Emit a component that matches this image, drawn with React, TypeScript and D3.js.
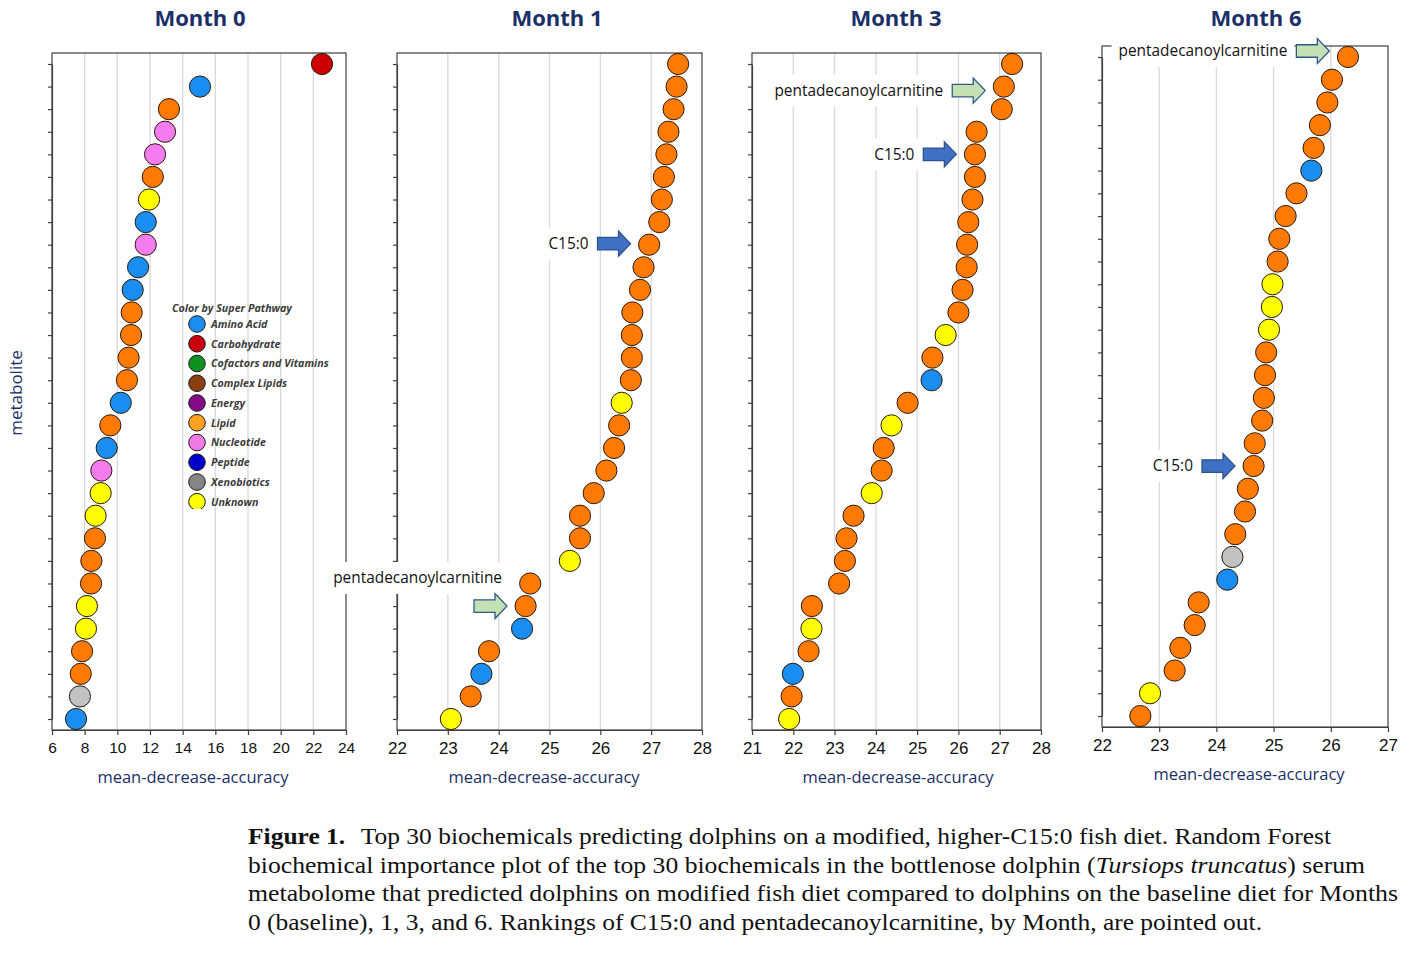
import { useEffect, useRef } from "react";
import * as d3 from "d3";

const WIDTH = 1418;
const HEIGHT = 958;

// Super pathway codes used in the per-month arrays
// AA amino acid, CH carbohydrate, LP lipid, NU nucleotide, XB xenobiotics, UN unknown

// mean-decrease-accuracy, rank 1 first
const month0Values = [22.53, 15.06, 13.16, 12.92, 12.31, 12.17, 11.94, 11.74, 11.74, 11.27, 10.94, 10.88, 10.84, 10.69, 10.59, 10.21, 9.57, 9.35, 9.02, 8.98, 8.67, 8.63, 8.41, 8.39, 8.14, 8.08, 7.84, 7.76, 7.71, 7.47];
const month0Pathways = ["CH", "AA", "LP", "NU", "NU", "LP", "UN", "AA", "NU", "AA", "AA", "LP", "LP", "LP", "LP", "AA", "LP", "AA", "NU", "UN", "UN", "LP", "LP", "LP", "UN", "UN", "LP", "LP", "XB", "AA"];

const month1Values = [27.53, 27.5, 27.44, 27.34, 27.3, 27.25, 27.21, 27.16, 26.96, 26.85, 26.78, 26.63, 26.62, 26.62, 26.6, 26.42, 26.37, 26.27, 26.12, 25.87, 25.6, 25.6, 25.4, 24.62, 24.53, 24.46, 23.81, 23.66, 23.45, 23.06];
const month1Pathways = ["LP", "LP", "LP", "LP", "LP", "LP", "LP", "LP", "LP", "LP", "LP", "LP", "LP", "LP", "LP", "UN", "LP", "LP", "LP", "LP", "LP", "LP", "UN", "LP", "LP", "AA", "LP", "AA", "LP", "UN"];

const month3Values = [27.3, 27.1, 27.05, 26.44, 26.4, 26.4, 26.34, 26.24, 26.21, 26.2, 26.1, 26.0, 25.69, 25.37, 25.35, 24.77, 24.38, 24.19, 24.14, 23.9, 23.46, 23.29, 23.25, 23.11, 22.45, 22.44, 22.37, 21.99, 21.96, 21.9];
const month3Pathways = ["LP", "LP", "LP", "LP", "LP", "LP", "LP", "LP", "LP", "LP", "LP", "LP", "UN", "LP", "AA", "LP", "UN", "LP", "LP", "UN", "LP", "LP", "LP", "LP", "LP", "UN", "LP", "AA", "LP", "UN"];

const month6Values = [26.3, 26.02, 25.94, 25.81, 25.7, 25.66, 25.4, 25.21, 25.1, 25.07, 24.98, 24.97, 24.92, 24.87, 24.85, 24.83, 24.8, 24.67, 24.65, 24.55, 24.5, 24.33, 24.28, 24.19, 23.69, 23.62, 23.37, 23.27, 22.84, 22.67];
const month6Pathways = ["LP", "LP", "LP", "LP", "LP", "AA", "LP", "LP", "LP", "LP", "UN", "UN", "UN", "LP", "LP", "LP", "LP", "LP", "LP", "LP", "LP", "LP", "XB", "AA", "LP", "LP", "LP", "LP", "UN", "LP"];

// ranks of the two highlighted biochemicals (shift = small vertical nudge of the arrow)
const month1Callouts = [
  { label: "C15:0", rank: 9, kind: "c15", above: false, shift: -1 },
  { label: "pentadecanoylcarnitine", rank: 25, kind: "pdc", above: true, shift: 0 },
];
const month3Callouts = [
  { label: "pentadecanoylcarnitine", rank: 2, kind: "pdc", above: false, shift: 4 },
  { label: "C15:0", rank: 5, kind: "c15", above: false, shift: 0 },
];
const month6Callouts = [
  { label: "pentadecanoylcarnitine", rank: 1, kind: "pdc", above: false, shift: -6 },
  { label: "C15:0", rank: 19, kind: "c15", above: false, shift: 0 },
];

const legendNames = ["Amino Acid", "Carbohydrate", "Cofactors and Vitamins", "Complex Lipids", "Energy", "Lipid", "Nucleotide", "Peptide", "Xenobiotics", "Unknown"];
const legendSwatches = ["#1a8ef0", "#c8000f", "#10901e", "#8a3f0e", "#850a85", "#ffa21f", "#f07ae6", "#0000c8", "#858585", "#ffff00"];

const dotColors: Record<string, string> = {
  AA: "#1a8ef0",
  CH: "#cc0000",
  LP: "#ff7a05",
  NU: "#f47cee",
  XB: "#c2c2c2",
  UN: "#ffff00",
};

const captionLines = [
  "Top 30 biochemicals predicting dolphins on a modified, higher-C15:0 fish diet. Random Forest",
  "biochemical importance plot of the top 30 biochemicals in the bottlenose dolphin (",
  "metabolome that predicted dolphins on modified fish diet compared to dolphins on the baseline diet for Months",
  "0 (baseline), 1, 3, and 6. Rankings of C15:0 and pentadecanoylcarnitine, by Month, are pointed out.",
];

const panels = [
  { title: "Month 0", values: month0Values, pathways: month0Pathways, callouts: [], domain: [6, 24], step: 2, left: 52, right: 346, top: 53, bottom: 730, titleX: 200, labelX: 193, tickFont: 15.5 },
  { title: "Month 1", values: month1Values, pathways: month1Pathways, callouts: month1Callouts, domain: [22, 28], step: 1, left: 397, right: 702, top: 53, bottom: 730, titleX: 557, labelX: 544, tickFont: 17 },
  { title: "Month 3", values: month3Values, pathways: month3Pathways, callouts: month3Callouts, domain: [21, 28], step: 1, left: 752, right: 1041, top: 53, bottom: 730, titleX: 896, labelX: 898, tickFont: 17 },
  { title: "Month 6", values: month6Values, pathways: month6Pathways, callouts: month6Callouts, domain: [22, 27], step: 1, left: 1102, right: 1388, top: 46, bottom: 727, titleX: 1256, labelX: 1249, tickFont: 17 },
];

const NAVY = "#1c2f66";
const AXIS = "#404040";
const R = 10.6;

const arrowPath = (tx: number, ty: number) => {
  const len = 33, body = 12.5, headLen = 12, head = 25;
  return `M${tx - len},${ty - body / 2}H${tx - headLen}V${ty - head / 2}L${tx},${ty}L${tx - headLen},${ty + head / 2}V${ty + body / 2}H${tx - len}Z`;
};

const App = () => {
  const svgRef = useRef<SVGSVGElement>(null);

  useEffect(() => {
    document.body.style.margin = "0";
    const svg = d3.select(svgRef.current);
    svg.selectAll("*").remove();

    const scales = panels.map((p) => {
      const x = d3.scaleLinear().domain(p.domain).range([p.left, p.right]);
      const y = d3.scalePoint<number>().domain(d3.range(1, 31)).range([p.top + 11, p.bottom - 11]);
      const ticks = d3.range(p.domain[0], p.domain[1] + p.step / 2, p.step);
      return { x, y, ticks };
    });

    // grid, frame and axes
    panels.forEach((p, i) => {
      const { x, y, ticks } = scales[i];
      const g = svg.append("g");

      g.append("g")
        .selectAll("line")
        .data(ticks.slice(1, -1))
        .join("line")
        .attr("x1", (d) => x(d))
        .attr("x2", (d) => x(d))
        .attr("y1", p.top)
        .attr("y2", p.bottom)
        .attr("stroke", "#d9d9d9")
        .attr("stroke-width", 1.3);

      g.append("rect")
        .attr("x", p.left)
        .attr("y", p.top)
        .attr("width", p.right - p.left)
        .attr("height", p.bottom - p.top)
        .attr("fill", "none")
        .attr("stroke", AXIS)
        .attr("stroke-width", 1.2);

      g.append("g")
        .attr("transform", `translate(${p.left},0)`)
        .call(d3.axisLeft(y).tickSize(4).tickSizeOuter(0).tickFormat(() => ""))
        .call((s) => s.selectAll("line,path").attr("stroke", AXIS).attr("stroke-width", 1.2));

      g.append("g")
        .attr("transform", `translate(0,${p.bottom})`)
        .call(d3.axisBottom(x).tickValues(ticks).tickSize(5).tickSizeOuter(0).tickPadding(7).tickFormat(d3.format("d")))
        .call((s) => s.selectAll("line,path").attr("stroke", AXIS).attr("stroke-width", 1.2))
        .call((s) =>
          s.selectAll("text")
            .attr("fill", "#111")
            .attr("font-family", "'Liberation Sans', Arial, sans-serif")
            .attr("font-size", p.tickFont)
        );

      svg.append("text")
        .attr("x", p.titleX)
        .attr("y", 26)
        .attr("text-anchor", "middle")
        .attr("font-family", "'Open Sans', sans-serif")
        .attr("font-weight", 700)
        .attr("font-size", 22)
        .attr("fill", NAVY)
        .text(p.title);

      svg.append("text")
        .attr("x", p.labelX)
        .attr("y", p.bottom + 53)
        .attr("text-anchor", "middle")
        .attr("font-family", "'Open Sans', sans-serif")
        .attr("font-size", 16.5)
        .attr("fill", NAVY)
        .text("mean-decrease-accuracy");
    });

    svg.append("text")
      .attr("transform", "translate(22,393) rotate(-90)")
      .attr("text-anchor", "middle")
      .attr("font-family", "'Open Sans', sans-serif")
      .attr("font-size", 17)
      .attr("fill", NAVY)
      .text("metabolite");

    // callout labels with white backing, drawn before the dots
    const arrows: { tx: number; ty: number; kind: string }[] = [];
    panels.forEach((p, i) => {
      const { x, y } = scales[i];
      p.callouts.forEach((c) => {
        const cy = (y(c.rank) as number) + c.shift;
        const tx = x(p.values[c.rank - 1]) - R - 8;
        arrows.push({ tx, ty: cy, kind: c.kind });
        const t = svg.append("text")
          .attr("x", c.above ? tx - 5 : tx - 33 - 9)
          .attr("y", c.above ? cy - 28 : cy)
          .attr("dy", "0.35em")
          .attr("text-anchor", "end")
          .attr("font-family", "'Open Sans', sans-serif")
          .attr("font-size", 15.4)
          .attr("fill", "#111")
          .text(c.label);
        const b = (t.node() as SVGTextElement).getBBox();
        svg.insert("rect", () => t.node())
          .attr("x", b.x - 7)
          .attr("y", b.y + b.height / 2 - 16)
          .attr("width", b.width + 14)
          .attr("height", 32)
          .attr("fill", "#fff");
      });
    });

    // dots
    panels.forEach((p, i) => {
      const { x, y } = scales[i];
      svg.append("g")
        .selectAll("circle")
        .data(p.values.map((v, k) => ({ v, rank: k + 1, pw: p.pathways[k] })))
        .join("circle")
        .attr("cx", (d) => x(d.v))
        .attr("cy", (d) => y(d.rank) as number)
        .attr("r", R)
        .attr("fill", (d) => dotColors[d.pw])
        .attr("stroke", "#2a1a0a")
        .attr("stroke-width", 1);
    });

    svg.append("g")
      .selectAll("path")
      .data(arrows)
      .join("path")
      .attr("d", (d) => arrowPath(d.tx, d.ty))
      .attr("fill", (d) => (d.kind === "c15" ? "#3f70c4" : "#c6e0b5"))
      .attr("stroke", (d) => (d.kind === "c15" ? "#2f528f" : "#2e5a8a"))
      .attr("stroke-width", 1.3);

    // legend inside the Month 0 panel
    svg.append("clipPath").attr("id", "legend-clip").append("rect").attr("x", 160).attr("y", 295).attr("width", 200).attr("height", 214);
    const lg = svg.append("g").attr("clip-path", "url(#legend-clip)");
    const legendFont = { family: "'Open Sans', sans-serif", size: 10.7 };
    lg.append("text")
      .attr("x", 172)
      .attr("y", 308)
      .attr("dy", "0.35em")
      .attr("font-family", legendFont.family)
      .attr("font-size", legendFont.size)
      .attr("font-style", "italic")
      .attr("font-weight", 700)
      .attr("fill", "#3c3c3c")
      .text("Color by Super Pathway");
    const items = lg.selectAll("g.item").data(legendNames).join("g").attr("class", "item")
      .attr("transform", (_, k) => `translate(197,${324 + k * 19.75})`);
    items.append("circle")
      .attr("r", 8.3)
      .attr("fill", (_, k) => legendSwatches[k])
      .attr("stroke", "#1a1a1a")
      .attr("stroke-width", 1);
    items.append("text")
      .attr("x", 14)
      .attr("dy", "0.35em")
      .attr("font-family", legendFont.family)
      .attr("font-size", legendFont.size)
      .attr("font-style", "italic")
      .attr("font-weight", 700)
      .attr("fill", "#3c3c3c")
      .text((d) => d);

    // figure caption
    const cap = svg.append("g")
      .attr("font-family", "'Liberation Serif', 'Times New Roman', serif")
      .attr("font-size", 23)
      .attr("fill", "#111");
    const lineY = [844, 873, 901, 930];
    const lineLen = [1083, 1117, 1150, 1014];
    const l1 = cap.append("text").attr("x", 248).attr("y", lineY[0]).attr("textLength", lineLen[0]).attr("lengthAdjust", "spacingAndGlyphs");
    l1.append("tspan").attr("font-weight", 700).text("Figure 1.");
    l1.append("tspan").attr("dx", 14).text(captionLines[0]);
    const l2 = cap.append("text").attr("x", 248).attr("y", lineY[1]).attr("textLength", lineLen[1]).attr("lengthAdjust", "spacingAndGlyphs");
    l2.append("tspan").text(captionLines[1]);
    l2.append("tspan").attr("font-style", "italic").text("Tursiops truncatus");
    l2.append("tspan").text(") serum");
    cap.append("text").attr("x", 248).attr("y", lineY[2]).attr("textLength", lineLen[2]).attr("lengthAdjust", "spacingAndGlyphs").text(captionLines[2]);
    cap.append("text").attr("x", 248).attr("y", lineY[3]).attr("textLength", lineLen[3]).attr("lengthAdjust", "spacingAndGlyphs").text(captionLines[3]);
  }, []);

  return <svg ref={svgRef} width={WIDTH} height={HEIGHT} style={{ display: "block", background: "#fff" }} />;
};

export default App;
